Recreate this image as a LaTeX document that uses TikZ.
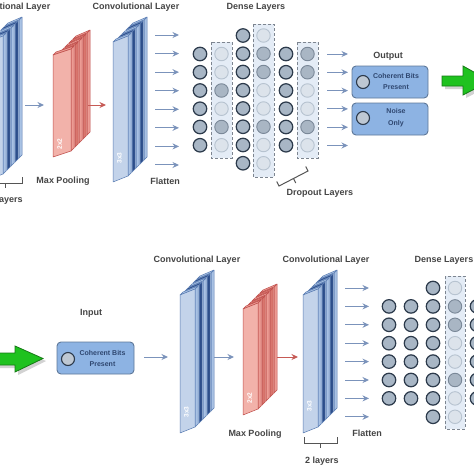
\documentclass[tikz,border=0pt]{standalone}
\usepackage{fontspec}
\setmainfont{Liberation Sans}
\usetikzlibrary{arrows.meta}
\definecolor{txtc}{HTML}{454545}
\definecolor{boxtxt}{HTML}{2F4770}
\definecolor{arrc}{HTML}{7B93BB}
\definecolor{redarr}{HTML}{C65A55}
\definecolor{bface}{HTML}{C3D3EA}
\definecolor{bsideL}{HTML}{A9C2E4}
\definecolor{bsideD}{HTML}{2D4E8A}
\definecolor{bedge}{HTML}{5B7DB3}
\definecolor{rface}{HTML}{F2B2AA}
\definecolor{rsideL}{HTML}{EC9C94}
\definecolor{rsideD}{HTML}{D9766E}
\definecolor{redge}{HTML}{C0504D}
\definecolor{cfill}{HTML}{A8B6C5}
\definecolor{cedge}{HTML}{2C3A4B}
\definecolor{lfill}{HTML}{DCE3EB}
\definecolor{ledge}{HTML}{B7C3D0}
\definecolor{mfill}{HTML}{A9B6C4}
\definecolor{medge}{HTML}{7A8898}
\definecolor{dropfill}{HTML}{E4ECF6}
\definecolor{dropedge}{HTML}{7D8590}
\definecolor{obfill}{HTML}{8DB3E3}
\definecolor{obedge}{HTML}{5E7899}
\definecolor{gfill}{HTML}{1FC21F}
\definecolor{gedge}{HTML}{167A16}
\definecolor{brkc}{HTML}{555555}
% #1 x, #2 y (bottom-left of front face), #3 width, #4 height, #5 face, #6 side, #7 edge
\newcommand{\oneplate}[7]{%
  \filldraw[fill=#6,draw=#7,line width=0.5pt,line join=round] ({#1+#3},{#2-6}) -- ++(3,-3) -- ++(0,-#4) -- ++(-3,3) -- cycle;
  \filldraw[fill=#6,draw=#7,line width=0.5pt,line join=round] (#1,{#2-#4}) -- ++(3,-3) -- ({#1+#3+3},{#2-#4-9}) -- ({#1+#3},{#2-#4-6}) -- cycle;
  \filldraw[fill=#5,draw=#7,line width=0.5pt,line join=round] (#1,#2) -- ({#1+#3},{#2-6}) -- ({#1+#3},{#2-#4-6}) -- (#1,{#2-#4}) -- cycle;
}
% #1 x, #2 y, #3 height, #4 front width
\newcommand{\blueplates}[4]{%
  \foreach \k/\sc in {4/bsideL,3/bsideD,2/bsideL,1/bsideD}{\oneplate{#1+#4-14+4*\k}{#2-4*\k}{14}{#3}{bface}{\sc}{bedge}}%
  \oneplate{#1}{#2}{#4}{#3}{bface}{bsideL}{bedge}}
\newcommand{\redplates}[4]{%
  \foreach \k/\sc in {4/rsideL,3/rsideD,2/rsideL,1/rsideD}{\oneplate{#1+#4-14+4*\k}{#2-4*\k}{14}{#3}{rface}{\sc}{redge}}%
  \oneplate{#1}{#2}{#4}{#3}{rface}{rsideL}{redge}}
\begin{document}
\begin{tikzpicture}[x=1pt,y=-1pt,
  title/.style={font=\fontsize{9}{10}\selectfont\bfseries, text=txtc, inner sep=0pt},
  dcirc/.style={circle, minimum size=13.5pt, inner sep=0pt, fill=cfill, draw=cedge, line width=1.2pt},
  dropc/.style={circle, minimum size=13.5pt, inner sep=0pt, line width=0.9pt},
  flow/.style={-{Stealth[length=6.5pt,width=6pt]}, draw=arrc, line width=1pt},
  redflow/.style={-{Stealth[length=6.5pt,width=6pt]}, draw=redarr, line width=1pt},
  droprect/.style={fill=dropfill, draw=dropedge, dash pattern=on 3pt off 2pt, line width=0.8pt},
  obox/.style={rounded corners=4pt, fill=obfill, draw=obedge, line width=0.9pt, minimum width=76pt, minimum height=32pt, inner sep=0pt},
  ocirc/.style={circle, minimum size=13pt, inner sep=0pt, fill=cfill!75!white, draw=cedge, line width=1.1pt},
  btxt/.style={font=\fontsize{7}{11}\selectfont\bfseries, text=boxtxt, align=center, inner sep=0pt},
  plab/.style={font=\fontsize{6.5}{7}\selectfont\bfseries, text=white, rotate=90, inner sep=0pt},
  brk/.style={draw=brkc, line width=1pt},
  garrow/.style={fill=gfill, draw=gedge, line width=0.8pt, line join=miter},
  gshadow/.style={fill=black!35, opacity=0.5}]
\fill[white] (0,0) rectangle (474,474);
\useasboundingbox (0,0) rectangle (474,474);

% ================= TOP PANEL =================
\node[title] (t1) at (7,7) {Convolutional Layer};
\node[title] (t2) at (136,7) {Convolutional Layer};
\node[title] (t3) at (256,7) {Dense Layers};

\blueplates{-12}{180}{138}{15}
\draw[brk] (-11,177) -- (-11,183) -- (22,183) -- (22,177);
\draw[brk] (5.5,183) -- (5.5,188);
\node[title] (l1) at (6,200) {2 layers};

\coordinate (a1s) at (25,105); \coordinate (a1e) at (44,105);
\draw[flow] (a1s) -- (a1e);

\redplates{53}{157}{102}{18}
\node[plab] (p1) at (59.5,144) {2x2};
\node[title] (mp1) at (63,181) {Max Pooling};

\coordinate (a2s) at (88,105); \coordinate (a2e) at (106,105);
\draw[redflow] (a2s) -- (a2e);

\blueplates{113}{182}{140}{15}
\node[plab] (p2) at (119.5,158) {3x3};
\node[title] (fl1) at (165,181) {Flatten};

\foreach \i in {0,...,7}{
  \coordinate (fa\i) at (155,{35+18.57*\i});
  \coordinate (fb\i) at (179,{35+18.57*\i});
  \draw[flow] (fa\i) -- (fb\i);
}

\draw[droprect] (211,42) rectangle (232,158);
\draw[droprect] (253,24) rectangle (274,177);
\draw[droprect] (297,42) rectangle (318,158);

\foreach \i in {0,...,5}{
  \node[dcirc] (ta\i) at (200,{54+18.25*\i}) {};
  \node[dcirc] (tc\i) at (286,{54+18.25*\i}) {};
}
\foreach \i in {0,...,7}{
  \node[dcirc] (tb\i) at (243,{35.5+18.25*\i}) {};
}
\foreach \i/\f/\e in {0/lfill/ledge,1/lfill/ledge,2/mfill/medge,3/lfill/ledge,4/mfill/medge,5/lfill/ledge}{
  \node[dropc, fill=\f, draw=\e] (td1\i) at (221.5,{54+18.25*\i}) {};
}
\foreach \i/\f/\e in {0/lfill/ledge,1/mfill/medge,2/mfill/medge,3/lfill/ledge,4/lfill/ledge,5/mfill/medge,6/lfill/ledge,7/lfill/ledge}{
  \node[dropc, fill=\f, draw=\e] (td2\i) at (263.5,{35.5+18.25*\i}) {};
}
\foreach \i/\f/\e in {0/mfill/medge,1/mfill/medge,2/lfill/ledge,3/lfill/ledge,4/mfill/medge,5/lfill/ledge}{
  \node[dropc, fill=\f, draw=\e] (td3\i) at (307.5,{54+18.25*\i}) {};
}

\foreach \i in {0,...,5}{
  \coordinate (ga\i) at (327,{54+18.3*\i});
  \coordinate (gb\i) at (348,{54+18.3*\i});
  \draw[flow] (ga\i) -- (gb\i);
}

\draw[brk] (276.7,181.5) -- (279,186) -- (308,171) -- (305.7,166.5);
\draw[brk] (293.5,178.5) -- (295.8,183);
\node[title] (dl) at (320,193) {Dropout Layers};

\node[title] (outt) at (388,56) {Output};
\node[obox] (ob1) at (390,82) {};
\node[ocirc] (oc1) at (363,82) {};
\node[btxt] (ot1) at (396,81.5) {Coherent Bits\\Present};
\node[obox] (ob2) at (390,119) {};
\node[ocirc] (oc2) at (363,118) {};
\node[btxt, font=\fontsize{7}{12}\selectfont\bfseries] (ot2) at (396,118) {Noise\\Only};

\fill[gshadow] (445,79) -- (466,79) -- (466,69) -- (493,84) -- (466,98) -- (466,89) -- (445,89) -- cycle;
\filldraw[garrow] (442,76) -- (463,76) -- (463,66) -- (490,81) -- (463,95) -- (463,86) -- (442,86) -- cycle;

% ================= BOTTOM PANEL =================
\fill[gshadow] (-5,356) -- (18,356) -- (18,349) -- (46,361) -- (18,375) -- (18,368) -- (-5,368) -- cycle;
\filldraw[garrow] (-8,353) -- (15,353) -- (15,346) -- (43,358.5) -- (15,372) -- (15,365) -- (-8,365) -- cycle;

\node[title] (int) at (91,313) {Input};
\node[obox, minimum width=77pt, minimum height=32pt] (ib) at (95.5,358) {};
\node[ocirc] (ic) at (68,359) {};
\node[btxt] (it) at (102.5,358) {Coherent Bits\\Present};

\coordinate (b1s) at (144,357); \coordinate (b1e) at (168,357);
\draw[flow] (b1s) -- (b1e);

\node[title] (t4) at (197,260) {Convolutional Layer};
\blueplates{180}{433}{138}{15}
\node[plab] (p3) at (186.5,412) {3x3};

\coordinate (b2s) at (214,357); \coordinate (b2e) at (234,357);
\draw[flow] (b2s) -- (b2e);

\redplates{243}{415}{106}{15}
\node[plab] (p4) at (249.5,398) {2x2};
\node[title] (mp2) at (255,434) {Max Pooling};

\coordinate (b3s) at (277,357); \coordinate (b3e) at (298,357);
\draw[redflow] (b3s) -- (b3e);

\node[title] (t5) at (326,260) {Convolutional Layer};
\blueplates{303}{433}{138}{15}
\node[plab] (p5) at (309.5,406) {3x3};
\draw[brk] (304,437) -- (304,443) -- (337,443) -- (337,437);
\draw[brk] (320.5,443) -- (320.5,448);
\node[title] (l2) at (322,461) {2 layers};
\node[title] (fl2) at (367,433) {Flatten};

\foreach \i in {0,...,7}{
  \coordinate (ha\i) at (345,{288+18.4*\i});
  \coordinate (hb\i) at (369,{288+18.4*\i});
  \draw[flow] (ha\i) -- (hb\i);
}

\node[title] (t6) at (444,260) {Dense Layers};
\draw[droprect] (445,276) rectangle (465,429);
\foreach \i in {0,...,5}{
  \node[dcirc] (ba\i) at (389,{306.4+18.4*\i}) {};
  \node[dcirc] (bb\i) at (411,{306.4+18.4*\i}) {};
  \node[dcirc] (bd\i) at (477,{306.4+18.4*\i}) {};
}
\foreach \i in {0,...,7}{
  \node[dcirc] (bc\i) at (433,{288+18.4*\i}) {};
}
\foreach \i/\f/\e in {0/lfill/ledge,1/mfill/medge,2/mfill/medge,3/lfill/ledge,4/lfill/ledge,5/mfill/medge,6/lfill/ledge,7/lfill/ledge}{
  \node[dropc, fill=\f, draw=\e] (be\i) at (455,{288+18.4*\i}) {};
}
\end{tikzpicture}
\end{document}
